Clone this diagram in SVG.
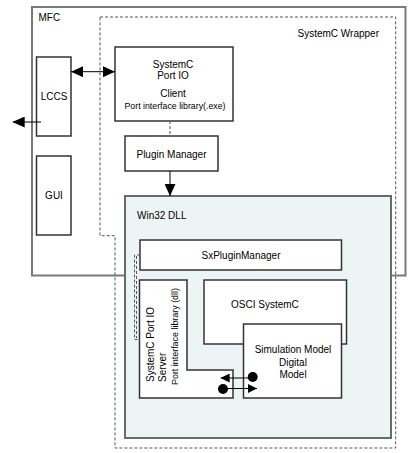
<svg xmlns="http://www.w3.org/2000/svg" width="415" height="453" viewBox="0 0 415 453">
<style>
text{font-family:"Liberation Sans",Arial,sans-serif;font-size:10px;fill:#000}
.c{text-anchor:middle}
.box{fill:#fff;stroke:#333;stroke-width:1.5}
.outer{fill:#fff;stroke:#7a7a7a;stroke-width:2}
.dash{fill:none;stroke:#555;stroke-width:1;stroke-dasharray:3,2}
.ln{fill:none;stroke:#000;stroke-width:1}
</style>
<defs>
<marker id="ah" markerWidth="12" markerHeight="11" refX="12" refY="5.5" orient="auto-start-reverse" markerUnits="userSpaceOnUse"><path d="M0,0 L12,5.5 L0,11 z" fill="#000"/></marker>
<marker id="as" markerWidth="9" markerHeight="9" refX="9" refY="4.5" orient="auto-start-reverse" markerUnits="userSpaceOnUse"><path d="M0,0 L9,4.5 L0,9 z" fill="#000"/></marker>
</defs>
<g id="mfc"><rect class="outer" x="32" y="7" width="373.5" height="268.5"/><text x="38.5" y="21">MFC</text></g>
<g id="wrapper"><path class="dash" d="M100,17 H395.7 V448 H115 V235.7 H100 Z"/><text x="379" y="37" style="text-anchor:end">SystemC Wrapper</text></g>
<g id="lccs"><rect class="box" x="36.5" y="57" width="34.5" height="79"/><text class="c" x="54" y="100">LCCS</text></g>
<g id="gui"><rect class="box" x="36.5" y="156" width="34.5" height="79"/><text class="c" x="54" y="199">GUI</text></g>
<g id="client"><rect class="box" x="115" y="47" width="118" height="74"/>
<text class="c" x="173" y="67.5">SystemC</text><text class="c" x="173" y="79">Port IO</text><text class="c" x="173" y="96.5">Client</text>
<text class="c" x="175" y="109" style="font-size:9.5px" textLength="101" lengthAdjust="spacingAndGlyphs">Port interface library(.exe)</text></g>
<g id="pluginmanager"><rect class="box" x="125" y="136" width="93" height="35"/><text class="c" x="171.5" y="158">Plugin Manager</text></g>
<g id="win32"><rect x="125" y="196" width="266" height="242" fill="#edf4f4" stroke="#6a6a6a" stroke-width="2"/><text x="137" y="219">Win32 DLL</text></g>
<g id="sxpluginmanager"><rect class="box" x="140" y="240" width="201.5" height="30"/><text class="c" x="241" y="259">SxPluginManager</text></g>
<g id="portioserver"><path class="box" d="M139.5,280 H187 V370 H233 V398 H139.5 Z"/>
<text transform="translate(154,382) rotate(-90)">SystemC Port IO</text>
<text transform="translate(165.5,382) rotate(-90)">Server</text>
<text transform="translate(178,385) rotate(-90)" style="font-size:9.5px" textLength="97" lengthAdjust="spacingAndGlyphs">Port interface library (dll)</text></g>
<g id="osci"><rect class="box" x="204" y="280" width="142.5" height="64"/><text x="231" y="308">OSCI SystemC</text></g>
<g id="simmodel"><rect class="box" x="243.5" y="324" width="98" height="74"/>
<text class="c" x="293" y="353">Simulation Model</text><text class="c" x="293" y="365.5">Digital</text><text class="c" x="293" y="377.5">Model</text></g>
<g id="connectors">
<line class="ln" x1="71" y1="71.7" x2="115" y2="71.7" marker-start="url(#ah)" marker-end="url(#ah)"/>
<line class="ln" x1="41" y1="122" x2="12.7" y2="122" marker-end="url(#ah)"/>
<line class="dash" x1="170" y1="121" x2="170" y2="136"/>
<line class="ln" x1="170" y1="171" x2="170" y2="196" marker-end="url(#ah)"/>
<path class="dash" d="M140,255 H134.5 V339.5 H140"/>
<line class="dash" x1="136.5" y1="256" x2="136.5" y2="338"/>
<line class="ln" x1="252.7" y1="378" x2="220.7" y2="378" marker-end="url(#as)"/>
<circle cx="252.7" cy="377" r="5" fill="#000"/>
<line class="ln" x1="223" y1="388.5" x2="257" y2="388.5" marker-end="url(#as)"/>
<circle cx="223" cy="389" r="5" fill="#000"/>
</g>
</svg>
